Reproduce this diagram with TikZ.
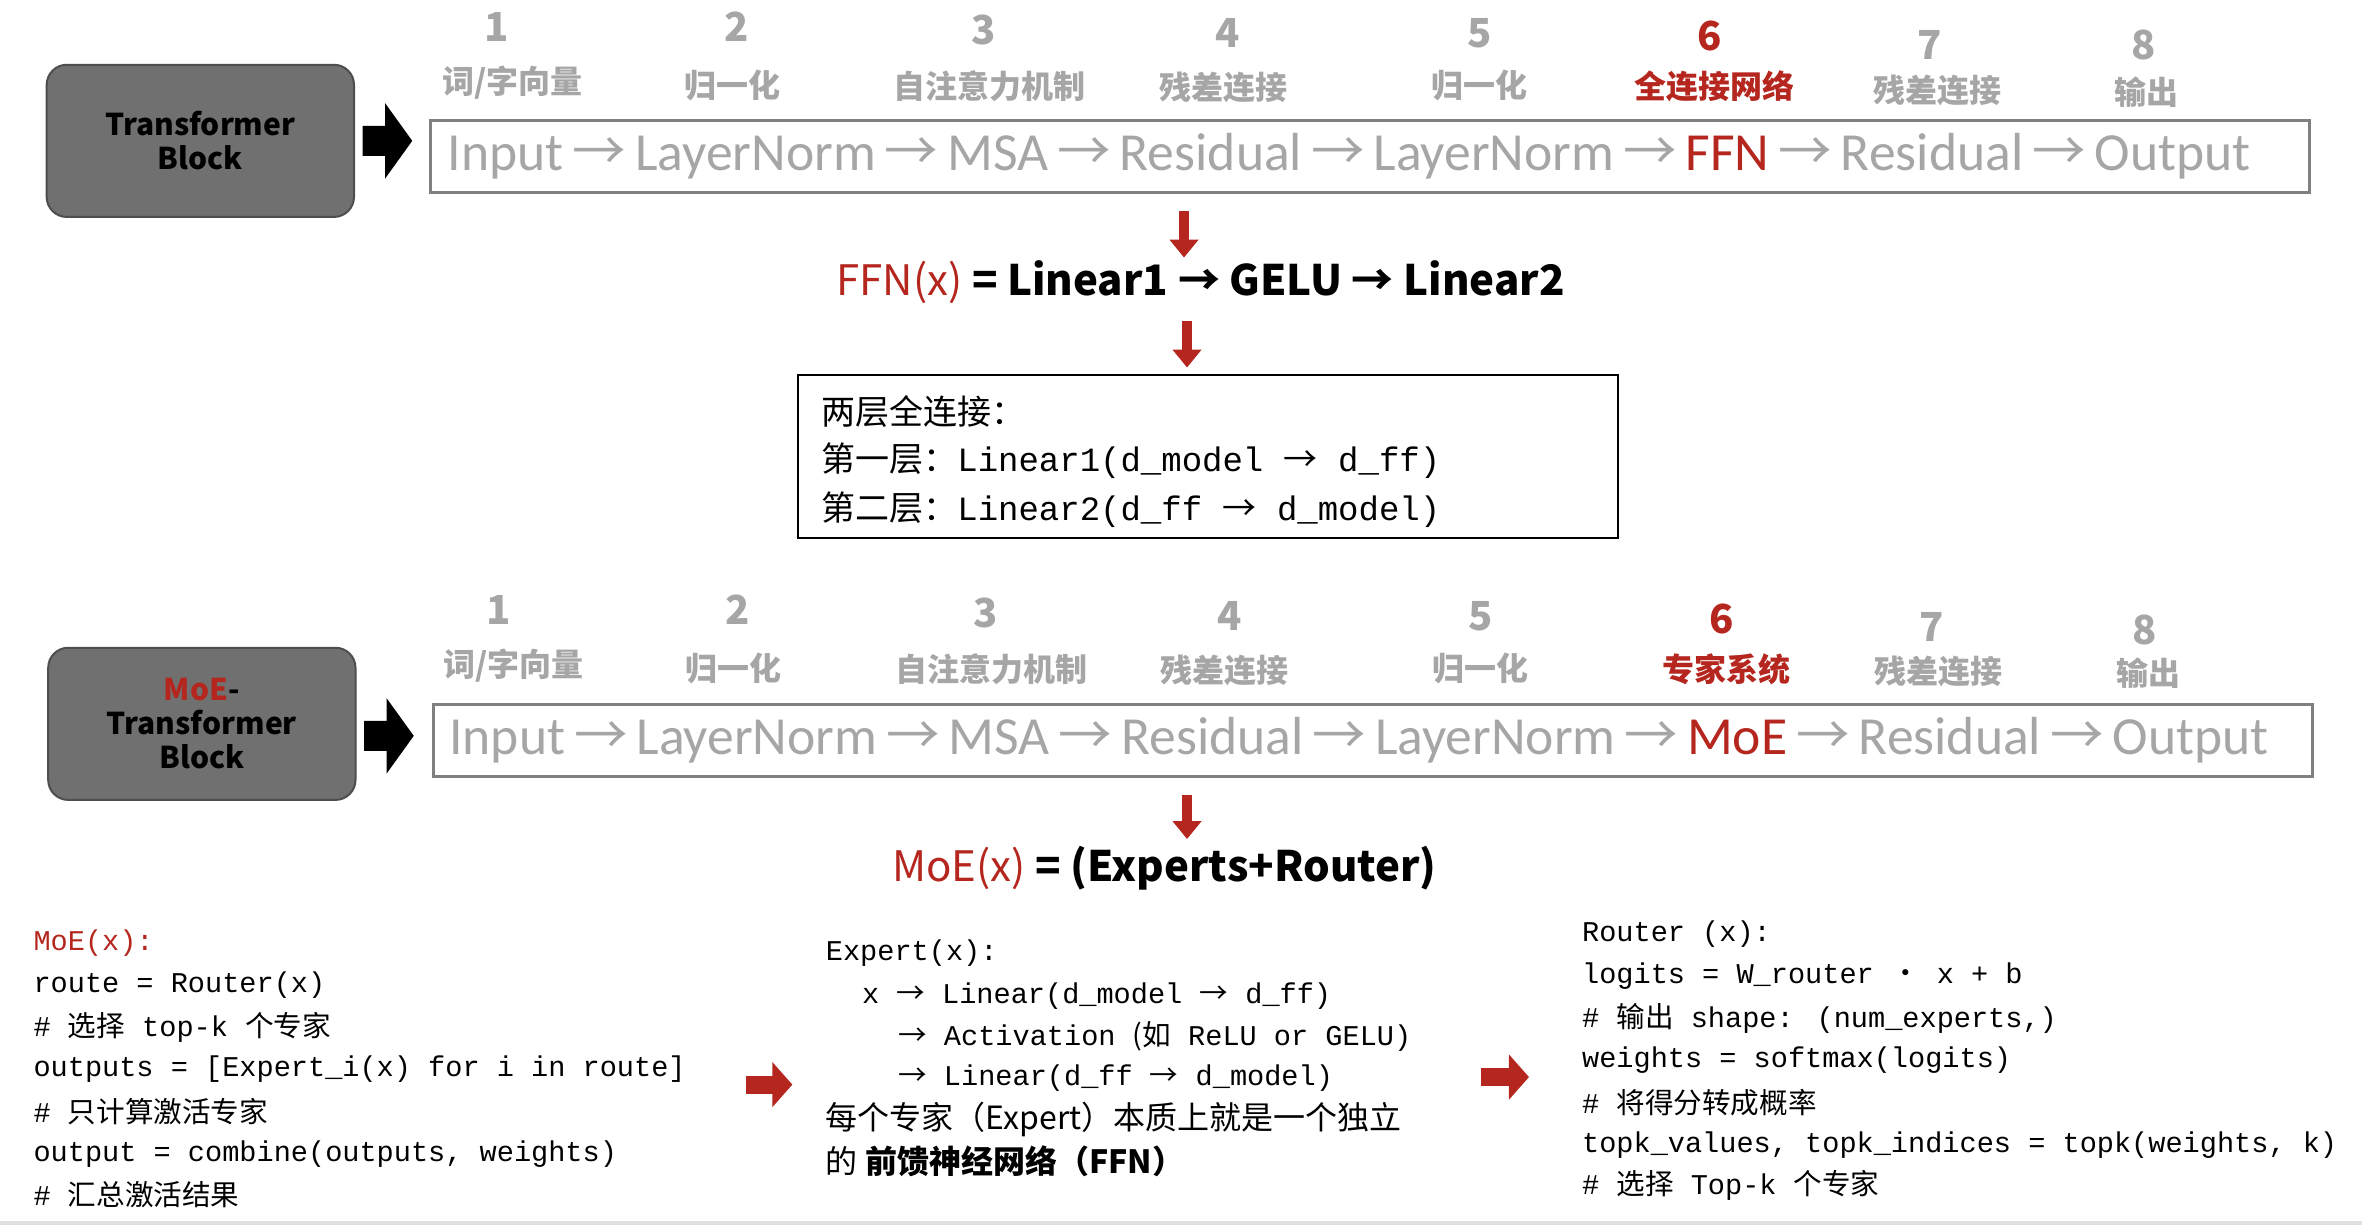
\documentclass[tikz,border=0pt]{standalone}
\usepackage{fontspec}
\setmainfont{Noto Sans CJK SC}
\newfontfamily\cjkf{Noto Sans CJK SC}
\newfontfamily\codef{Liberation Mono}
\newfontfamily\calf{Carlito}
\usetikzlibrary{arrows.meta}
\newcommand{\cj}[1]{{\cjkf #1}}
\newcommand{\ar}{{\cjkf\,→\,}}
\definecolor{myred}{HTML}{B5261E}
\definecolor{pgray}{HTML}{A6A6A6}
\definecolor{boxgray}{HTML}{707070}
\begin{document}
\begin{tikzpicture}[x=0.7532pt,y=-0.7532pt,
  gbox/.style={draw=boxgray!70!black,line width=1pt,fill=boxgray,rounded corners=10pt,minimum width=204*0.7532pt,minimum height=101*0.7532pt,align=center,font=\fontsize{15}{17}\selectfont\bfseries},
  pipe/.style={draw=gray,line width=1.5pt,minimum height=48*0.7532pt,minimum width=1247*0.7532pt,anchor=west},
  ptxt/.style={font=\calf\fontsize{26.8}{28}\selectfont,text=pgray,anchor=west,inner sep=0},
  num/.style={font=\fontsize{20}{22}\selectfont\bfseries,text=pgray},
  lab/.style={font=\fontsize{16}{18}\selectfont\bfseries,text=pgray},
  redd/.style={myred,line width=5pt,-{Triangle[width=14pt,length=9pt]}},
  redr/.style={myred,line width=9pt,-{Triangle[width=22pt,length=10pt]}},
  code/.style={anchor=west,inner sep=0,font=\codef\fontsize{14.3}{16}\selectfont},
  mid/.style={anchor=west,inner sep=0,font=\fontsize{16}{18}\selectfont},
  btx/.style={anchor=west,inner sep=0,font=\codef\fontsize{17}{19}\selectfont},
  blk/.pic={\fill (5,-10)--(20,-10)--(20,-25)--(38,0)--(20,25)--(20,10)--(5,10)--cycle;}]
\useasboundingbox (0,0) rectangle (1568,814);
\draw[gray!25,line width=2pt] (0,812) -- (1568,812);
% ---- top section
\node[gbox] (tb1) at (133,93.5) {Transformer\\Block};
\node[pipe] (p1) at (285,104) {};
\node[ptxt] (t1) at (297,104) {Input\ar LayerNorm\ar MSA\ar Residual\ar LayerNorm\ar \textcolor{myred}{FFN}\ar Residual\ar Output};
\pic at (tb1.east) {blk};
\node[num] (n1a) at (330,18) {1}; \node[lab] (l1a) at (340,55) {词/字向量};
\node[num] (n2a) at (489,18) {2}; \node[lab] (l2a) at (486,57) {归一化};
\node[num] (n3a) at (653,20) {3}; \node[lab] (l3a) at (657,57) {自注意力机制};
\node[num] (n4a) at (815,22) {4}; \node[lab] (l4a) at (812,58) {残差连接};
\node[num] (n5a) at (982,22) {5}; \node[lab] (l5a) at (982,57) {归一化};
\node[num,text=myred] (n6a) at (1135,24) {6}; \node[lab,text=myred] (l6a) at (1138,57) {全连接网络};
\node[num] (n7a) at (1281,30) {7}; \node[lab] (l7a) at (1286,60) {残差连接};
\node[num] (n8a) at (1423,30) {8}; \node[lab] (l8a) at (1425,61) {输出};
\coordinate (r1s) at (786,140); \coordinate (r1e) at (786,171);
\draw[redd] (r1s) -- (r1e);
\node[font=\fontsize{21}{24}\selectfont\bfseries] (ffn) at (797,187) {\textcolor{myred}{\mdseries FFN(x)} = Linear1 → GELU → Linear2};
\coordinate (r2s) at (788,213); \coordinate (r2e) at (788,244);
\draw[redd] (r2s) -- (r2e);
\draw[line width=1pt] (530,249) rectangle (1074,357);
\node[btx] (b1) at (545,273) {\cj{两层全连接：}};
\node[btx] (b2) at (545,306) {\cj{第一层：}Linear1(d\_model \cj{→} d\_ff)};
\node[btx] (b3) at (545,338) {\cj{第二层：}Linear2(d\_ff \cj{→} d\_model)};
% ---- bottom section
\node[gbox] (tb2) at (134,480.5) {\textcolor{myred}{MoE}-\\Transformer\\Block};
\node[pipe] (p2) at (287,491.5) {};
\node[ptxt] (t2) at (298,491.5) {Input\ar LayerNorm\ar MSA\ar Residual\ar LayerNorm\ar \textcolor{myred}{MoE}\ar Residual\ar Output};
\pic at ([yshift=-8*0.7532pt]tb2.east) {blk};
\node[num] (n1b) at (331,405) {1}; \node[lab] (l1b) at (341,442) {词/字向量};
\node[num] (n2b) at (490,405) {2}; \node[lab] (l2b) at (487,444) {归一化};
\node[num] (n3b) at (654,407) {3}; \node[lab] (l3b) at (658,444) {自注意力机制};
\node[num] (n4b) at (816,409) {4}; \node[lab] (l4b) at (813,445) {残差连接};
\node[num] (n5b) at (983,409) {5}; \node[lab] (l5b) at (983,444) {归一化};
\node[num,text=myred] (n6b) at (1143,411) {6}; \node[lab,text=myred] (l6b) at (1146,444) {专家系统};
\node[num] (n7b) at (1282,416) {7}; \node[lab] (l7b) at (1287,446) {残差连接};
\node[num] (n8b) at (1424,418) {8}; \node[lab] (l8b) at (1426,447) {输出};
\coordinate (r3s) at (788,528); \coordinate (r3e) at (788,557);
\draw[redd] (r3s) -- (r3e);
\node[font=\fontsize{21}{24}\selectfont\bfseries] (moe) at (773,576) {\textcolor{myred}{\mdseries MoE(x)} = (Experts+Router)};
% left code
\node[code,text=myred] (c1) at (22,626) {MoE(x):};
\node[code] (c2) at (22,654) {route = Router(x)};
\node[code] (c3) at (22,682) {\# \cj{选择} top-k \cj{个专家}};
\node[code] (c4) at (22,710) {outputs = [Expert\_i(x) for i in route]};
\node[code] (c5) at (22,738) {\# \cj{只计算激活专家}};
\node[code] (c6) at (22,766) {output = combine(outputs, weights)};
\node[code] (c7) at (22,793) {\# \cj{汇总激活结果}};
\coordinate (ra1) at (495,720); \coordinate (ra2) at (526,720);
\draw[redr] (ra1) -- (ra2);
% middle
\node[code] (m1) at (548,633) {Expert(x):};
\node[code] (m2) at (572,661) {x \cj{→} Linear(d\_model \cj{→} d\_ff)};
\node[code] (m3) at (596,688) {\cj{→} Activation \cj{(如} ReLU or GELU)};
\node[code] (m4) at (596,716) {\cj{→} Linear(d\_ff \cj{→} d\_model)};
\node[mid] (m5) at (548,743) {每个专家（Expert）本质上就是一个独立};
\node[mid] (m6) at (548,771) {的 \textbf{前馈神经网络（FFN）}};
\coordinate (rb1) at (983,715); \coordinate (rb2) at (1015,715);
\draw[redr] (rb1) -- (rb2);
% right
\node[code] (r1) at (1050,620) {Router (x):};
\node[code] (r2) at (1050,648) {logits = W\_router \cj{•} x + b};
\node[code] (r3) at (1050,676) {\# \cj{输出} shape: (num\_experts,)};
\node[code] (r4) at (1050,704) {weights = softmax(logits)};
\node[code] (r5) at (1050,732) {\# \cj{将得分转成概率}};
\node[code] (r6) at (1050,760) {topk\_values, topk\_indices = topk(weights, k)};
\node[code] (r7) at (1050,787) {\# \cj{选择} Top-k \cj{个专家}};
\end{tikzpicture}
\end{document}
